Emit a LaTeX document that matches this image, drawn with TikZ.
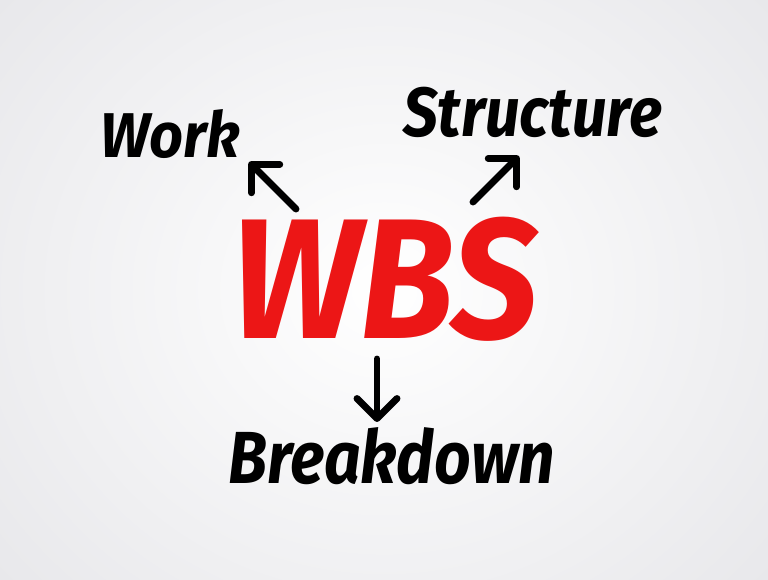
\documentclass[tikz,border=0pt]{standalone}
\usepackage{fontspec}
\setmainfont{Fira Sans}
\usetikzlibrary{arrows.meta}
\definecolor{wbsred}{RGB}{236,22,22}
\definecolor{bgedge}{RGB}{232,232,235}
\tikzset{
  word/.style={anchor=base west, inner sep=0pt, font=\bfseries\itshape, text=black},
  handarrow/.style={line width=5.2pt, line cap=round, line join=round,
    -{Straight Barb[length=15pt,width=30pt,line cap=round,line join=round]}},
}
\begin{document}
\begin{tikzpicture}[x=0.75pt,y=-0.75pt]
\useasboundingbox (0,0) rectangle (768,580);
\shade[inner color=white, outer color=bgedge] (-120,-160) rectangle (888,740);
% words
\node[word] (work) at (100,158) {\resizebox{105pt}{36pt}{Work}};
\node[word] (structure) at (403,137) {\resizebox{194pt}{37pt}{Structure}};
\node[word, text=wbsred] (wbs) at (231,339) {\resizebox{230pt}{91pt}{WBS}};
\node[word] (breakdown) at (228,484) {\resizebox{245pt}{42pt}{Breakdown}};
% arrow ends
\coordinate (a1s) at (296,209);
\coordinate (a1e) at (249,162);
\coordinate (a2s) at (473,202);
\coordinate (a2e) at (519,156);
\coordinate (a3s) at (377,359);
\coordinate (a3e) at (377,422);
\draw[handarrow] (a1s) -- (a1e);
\draw[handarrow] (a2s) -- (a2e);
\draw[handarrow] (a3s) -- (a3e);
\end{tikzpicture}
\end{document}
